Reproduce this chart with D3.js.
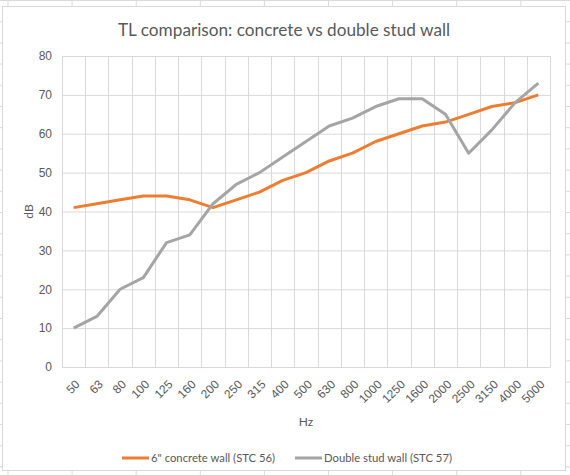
<!DOCTYPE html>
<html>
<head>
<meta charset="utf-8">
<script src="https://cdn.jsdelivr.net/npm/d3@7"></script>
<style>
  body { margin: 0; background: #fff; }
  svg { display: block; font-family: Lato, "Noto Sans", sans-serif; }
</style>
</head>
<body>
<div id="chart"></div>
<script>
const freqs = ["50", "63", "80", "100", "125", "160", "200", "250", "315", "400", "500",
  "630", "800", "1000", "1250", "1600", "2000", "2500", "3150", "4000", "5000"];
const concrete = [41, 42, 43, 44, 44, 43, 41, 43, 45, 48, 50, 53, 55, 58, 60, 62, 63, 65, 67, 68, 70];
const doubleStud = [10, 13, 20, 23, 32, 34, 42, 47, 50, 54, 58, 62, 64, 67, 69, 69, 65, 55, 61, 68, 73];
const seriesNames = ["6\" concrete wall (STC 56)", "Double stud wall (STC 57)"];
const yTicks = [0, 10, 20, 30, 40, 50, 60, 70, 80];

const W = 570, H = 475;
const margin = { top: 56, right: 20, bottom: 108, left: 62 },
  width = 550 - margin.left,
  height = 367 - margin.top;

const svg = d3.select("#chart").append("svg")
  .attr("width", W)
  .attr("height", H);

// spreadsheet cells behind the chart
const sheet = svg.append("g").attr("stroke", "#dadada").attr("stroke-width", 1);
d3.range(8, W, 64.1).forEach(x => {
  sheet.append("line").attr("x1", x).attr("x2", x).attr("y1", 0).attr("y2", H);
});
d3.range(0.5, H, 21.2).forEach(y => {
  sheet.append("line").attr("x1", 0).attr("x2", W).attr("y1", y).attr("y2", y);
});

// chart area
svg.append("rect")
  .attr("x", 2.5).attr("y", 6.5)
  .attr("width", 563).attr("height", 464)
  .attr("fill", "#fff")
  .attr("stroke", "#d9d9d9");

const g = svg.append("g")
  .attr("transform", `translate(${margin.left},${margin.top})`);

const x = d3.scaleBand()
  .domain(freqs)
  .range([0, width])
  .padding(0);

const y = d3.scaleLinear()
  .domain([0, 80])
  .range([height, 0]);

// horizontal gridlines + y labels
const yAxis = g.append("g")
  .call(d3.axisLeft(y).tickValues(yTicks).tickSize(-width).tickPadding(10));
yAxis.select(".domain").remove();
yAxis.selectAll(".tick line").attr("stroke", "#d9d9d9");
yAxis.selectAll(".tick text")
  .attr("fill", "#595959")
  .style("font-size", "12px");

// vertical gridlines at category boundaries
const bounds = freqs.map(f => x(f)).concat([width]);
g.append("g").selectAll("line")
  .data(bounds)
  .join("line")
  .attr("x1", d => Math.round(d) + 0.5)
  .attr("x2", d => Math.round(d) + 0.5)
  .attr("y1", 0)
  .attr("y2", height)
  .attr("stroke", "#d9d9d9");

// x axis labels
const xAxis = g.append("g")
  .attr("transform", `translate(0,${height})`)
  .call(d3.axisBottom(x).tickSize(0).tickPadding(0));
xAxis.select(".domain").attr("stroke", "#d9d9d9");
xAxis.selectAll(".tick text")
  .attr("fill", "#595959")
  .style("font-size", "12px")
  .attr("text-anchor", "end")
  .attr("dy", "0.35em")
  .attr("transform", "translate(4,15) rotate(-45)");

const line = d3.line()
  .x((d, i) => x(freqs[i]) + x.bandwidth() / 2)
  .y(d => y(d));

const colors = ["#ED7D31", "#A5A5A5"];
[concrete, doubleStud].forEach((s, k) => {
  g.append("path")
    .datum(s)
    .attr("fill", "none")
    .attr("stroke", colors[k])
    .attr("stroke-width", 3)
    .attr("stroke-linejoin", "round")
    .attr("d", line);
});

// title
svg.append("text")
  .attr("x", 284)
  .attr("y", 36)
  .attr("text-anchor", "middle")
  .attr("fill", "#595959")
  .style("font-size", "17.2px")
  .text("TL comparison: concrete vs double stud wall");

// axis titles
svg.append("text")
  .attr("transform", `translate(33,${margin.top + height / 2}) rotate(-90)`)
  .attr("text-anchor", "middle")
  .attr("fill", "#595959")
  .style("font-size", "12px")
  .text("dB");

svg.append("text")
  .attr("x", margin.left + width / 2)
  .attr("y", 426)
  .attr("text-anchor", "middle")
  .attr("fill", "#595959")
  .style("font-size", "12px")
  .text("Hz");

// legend
const legendX = [122, 295];
const legend = svg.append("g").selectAll("g")
  .data(seriesNames)
  .join("g")
  .attr("transform", (d, i) => `translate(${legendX[i]},458)`);
legend.append("line")
  .attr("x1", 0).attr("x2", 27)
  .attr("stroke", (d, i) => colors[i])
  .attr("stroke-width", 3);
legend.append("text")
  .attr("x", 29)
  .attr("dy", "0.35em")
  .attr("fill", "#595959")
  .style("font-size", "11.3px")
  .text(d => d);
</script>
</body>
</html>
